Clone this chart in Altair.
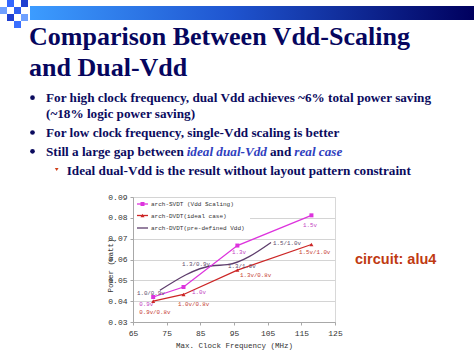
import altair as alt
import pandas as pd

# ---------------- data ----------------
freq_svdt = [71, 80, 96, 118]
power_svdt = [0.0420, 0.0468, 0.0667, 0.0812]
labels_svdt = ["0.9v", "1.0v", "1.3v", "1.5v"]

freq_ideal = [71, 80, 96, 118]
power_ideal = [0.0400, 0.0432, 0.0549, 0.0672]
labels_ideal = ["0.9v/0.8v", "1.0v/0.8v", "1.3v/0.8v", "1.5v/1.0v"]

freq_pre = [73, 88.5, 93, 106]
power_pre = [0.0452, 0.0570, 0.0575, 0.0682]
labels_pre = ["1.0/0.9v", "1.3/0.9v", "1.3/1.0v", "1.5/1.0v"]

series_names = ["arch-SVDT (Vdd Scaling)", "arch-DVDT(ideal case)", "arch-DVDT(pre-defined Vdd)"]
x_ticks = [65, 75, 85, 95, 105, 115, 125]
y_ticks = [0.03, 0.04, 0.05, 0.06, 0.07, 0.08, 0.09]

title_lines = ["Comparison Between Vdd-Scaling", "and Dual-Vdd"]
bullet_1 = ["For high clock frequency, dual Vdd achieves ~6% total power saving",
            "(~18% logic power saving)"]
bullet_2 = "For low clock frequency, single-Vdd scaling is better"
bullet_3 = ["Still a large gap between", "ideal dual-Vdd", "and", "real case"]
sub_bullet = "Ideal dual-Vdd is the result without layout pattern constraint"
circuit_note = "circuit: alu4"

# ---------------- layout / style ----------------
W_ALL, H_ALL = 474, 355
OX, OY = 133, 197          # plot-area origin
PW, PH = 202, 125          # plot-area size

MONO = "Liberation Mono"
SERIF = "Liberation Serif"
SANS = "Liberation Sans"
NAVY = "#0B0B5E"
C_SVDT = "#DD33DD"
C_IDEAL = "#CC2626"
C_PRE = "#5E3D6C"
L_SVDT = "#C23CC2"
L_IDEAL = "#C53A30"
L_PRE = "#5A4868"

one = pd.DataFrame({"k": [0]})


def px(x):
    return alt.value(x - OX)


def py(y):
    return alt.value(y - OY)


def text_at(txt, x, y, **kw):
    props = dict(align="left", baseline="middle")
    props.update(kw)
    return alt.Chart(one).mark_text(text=txt, **props).encode(x=px(x), y=py(y))


def rect_at(x1, y1, x2, y2, **kw):
    return alt.Chart(one).mark_rect(**kw).encode(x=px(x1), x2=px(x2), y=py(y1), y2=py(y2))


layers = []

# decorative header
squares = [(7, 0, "#3366FF"), (21, 0, "#1F3FD0"), (0, 7, "#6FA0FF"), (14, 7, "#2F5FF0"),
           (7, 14, "#1F3FD0"), (21, 14, "#6FA0FF"), (14, 21, "#3A70FF")]
for sx, sy, sc in squares:
    layers.append(rect_at(sx, sy, sx + 7, sy + 7, color=sc))
grad = alt.Gradient(gradient="linear", x1=0, x2=1, y1=0, y2=0,
                    stops=[alt.GradientStop(offset=0, color="#3C9CFF"),
                           alt.GradientStop(offset=0.45, color="#1F55D0"),
                           alt.GradientStop(offset=1, color="#00005E")])
layers.append(rect_at(30, 6, 474, 20, color=grad))

# title
layers.append(text_at(title_lines[0], 29, 45, baseline="alphabetic", font=SERIF, fontSize=26,
                      fontWeight="bold", color="#06065E"))
layers.append(text_at(title_lines[1], 29, 76, baseline="alphabetic", font=SERIF, fontSize=26,
                      fontWeight="bold", color="#06065E"))

# bullets
BF = 13.2
for yb in [97.7, 132.5, 151.3]:
    layers.append(alt.Chart(one).mark_point(shape="circle", filled=True, size=22, color=NAVY, opacity=1)
                  .encode(x=px(32.5), y=py(yb)))
layers.append(text_at(bullet_1[0], 46, 98.3, font=SERIF, fontSize=BF, fontWeight="bold", color=NAVY))
layers.append(text_at(bullet_1[1], 46, 113.5, font=SERIF, fontSize=BF, fontWeight="bold", color=NAVY))
layers.append(text_at(bullet_2, 46, 133, font=SERIF, fontSize=BF, fontWeight="bold", color=NAVY))
layers.append(text_at(bullet_3[0], 46, 152, font=SERIF, fontSize=BF, fontWeight="bold", color=NAVY))
layers.append(text_at(bullet_3[1], 186.7, 152, font=SERIF, fontSize=BF, fontWeight="bold",
                      fontStyle="italic", color="#2F40BE"))
layers.append(text_at(bullet_3[2], 270, 152, font=SERIF, fontSize=BF, fontWeight="bold", color=NAVY))
layers.append(text_at(bullet_3[3], 294.3, 152, font=SERIF, fontSize=BF, fontWeight="bold",
                      fontStyle="italic", color="#2F40BE"))
layers.append(alt.Chart(one).mark_point(shape="triangle-down", filled=True, size=14, color="#D0401A", opacity=1)
              .encode(x=px(56.7), y=py(169.5)))
layers.append(text_at(sub_bullet, 66.7, 170.5, font=SERIF, fontSize=BF, fontWeight="bold", color=NAVY))

# circuit note
layers.append(text_at(circuit_note, 355, 260, font=SANS, fontSize=14.5,
                      fontWeight="bold", color="#BF3A12"))

# ---------------- chart ----------------
xs = alt.Scale(domain=[65, 125], nice=False, zero=False)
ys = alt.Scale(domain=[0.03, 0.09], nice=False, zero=False)
xaxis = alt.Axis(values=x_ticks, format="d", grid=False, domainColor="#A8A8A8", tickColor="#A8A8A8",
                 tickSize=3, labelFont=MONO, labelFontSize=8, labelColor="#333333", labelPadding=4,
                 labelFlush=False, title="Max. Clock Frequency (MHz)", titleFont=MONO, titleFontSize=7.5,
                 titleFontWeight="normal", titleColor="#333333", titlePadding=4)
yaxis = alt.Axis(values=y_ticks, format=".2f", grid=True, gridColor="#D4D4D4", domainColor="#A8A8A8",
                 tickColor="#A8A8A8", tickSize=3, labelPadding=3, labelFont=MONO, labelFontSize=8,
                 labelColor="#333333", title="Power (watt)", titleFont=MONO, titleFontSize=7.5,
                 titleFontWeight="normal", titleColor="#333333", titleX=-23, titleY=68,
                 titleAngle=270, titleAlign="center", titleBaseline="middle")
X = alt.X("freq:Q", scale=xs, axis=xaxis)
Y = alt.Y("power:Q", scale=ys, axis=yaxis)

df_svdt = pd.DataFrame({"freq": freq_svdt, "power": power_svdt, "label": labels_svdt})
df_ideal = pd.DataFrame({"freq": freq_ideal, "power": power_ideal, "label": labels_ideal})
df_pre = pd.DataFrame({"freq": freq_pre, "power": power_pre, "label": labels_pre})

# legend background (covers grid)
layers.append(rect_at(134, 199, 250, 234, color="white"))

layers.append(alt.Chart(df_pre).mark_line(color=C_PRE, strokeWidth=1.3, interpolate="monotone").encode(x=X, y=Y))
layers.append(alt.Chart(df_ideal).mark_line(color=C_IDEAL, strokeWidth=1.3).encode(x=X, y=Y))
layers.append(alt.Chart(df_svdt).mark_line(color=C_SVDT, strokeWidth=1.3).encode(x=X, y=Y))
layers.append(alt.Chart(df_ideal).mark_point(shape="triangle-up", filled=True, size=16, color=C_IDEAL, opacity=1)
              .encode(x=X, y=Y))
layers.append(alt.Chart(df_svdt).mark_point(shape="square", filled=True, size=16, color=C_SVDT, opacity=1)
              .encode(x=X, y=Y))

# point labels
offs_svdt = [(-14, 6.5), (8.5, 5), (-5.4, 6.5), (-8.4, 9.7)]
offs_ideal = [(-14, 10.5), (-5.5, 9.8), (2.6, 4.9), (-12.4, 7.5)]
offs_pre = [(-23, 2.2), (-30, -1.7), (0.7, 1.7), (2, 0.5)]
for df, offs, col in [(df_svdt, offs_svdt, L_SVDT), (df_ideal, offs_ideal, L_IDEAL), (df_pre, offs_pre, L_PRE)]:
    for i, (dx, dy) in enumerate(offs):
        layers.append(alt.Chart(df.iloc[[i]]).mark_text(align="left", baseline="middle", dx=dx, dy=dy,
                                                         font=MONO, fontSize=5.8, color=col)
                      .encode(x=X, y=Y, text="label:N"))

# legend entries
leg = [(204, C_SVDT, "square"), (215.5, C_IDEAL, "triangle-up"), (228, C_PRE, None)]
for (ly, col, shp), name in zip(leg, series_names):
    layers.append(alt.Chart(one).mark_rule(color=col, strokeWidth=1.3)
                  .encode(x=px(137), x2=px(148), y=py(ly)))
    if shp:
        layers.append(alt.Chart(one).mark_point(shape=shp, filled=True, size=16, color=col, opacity=1)
                      .encode(x=px(142.5), y=py(ly)))
    layers.append(text_at(name, 151, ly, font=MONO, fontSize=6, color="#333333"))

chart = alt.layer(*layers).properties(
    width=PW, height=PH,
    padding={"left": OX, "top": OY, "right": W_ALL - OX - PW, "bottom": H_ALL - OY - PH},
    autosize="none", background="white",
).configure_view(stroke="#D8D8D8")

chart.save("out.html", embed_options={"renderer": "svg", "actions": False})
